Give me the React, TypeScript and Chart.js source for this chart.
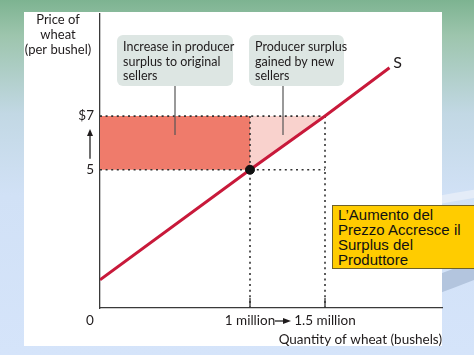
import React, { useEffect, useRef } from "react";
import { Chart, registerables } from "chart.js";

Chart.register(...registerables);

// ---- data ----
const quantityTicks = [1, 1.5];
const quantityTickLabels = ["1 million", "1.5 million"];
const priceTicks = [5, 7];
const priceTickLabels = ["5", "$7"];
const supplyQ = [0, 1, 1.5, 1.93];
const supplyP = [0.9, 5, 7, 8.8];
const oldPrice = 5;
const newPrice = 7;
const oldQty = 1;
const newQty = 1.5;
const yTitleLines = ["Price of", "wheat", "(per bushel)"];
const xTitle = "Quantity of wheat (bushels)";
const note1Lines = ["Increase in producer", "surplus to original", "sellers"];
const note2Lines = ["Producer surplus", "gained by new", "sellers"];
const note1Anchor = { q: 0.5, p: 6.3 };
const note2Anchor = { q: 1.22, p: 6.3 };
const supplyLabel = "S";
const boxLines = ["L\u2019Aumento del", "Prezzo Accresce il", "Surplus del", "Produttore"];

const FONT = "Lato, 'Open Sans', sans-serif";
const TXT = "#1f1b1c";

const annotations = {
  id: "annotations",
  afterDraw(chart: any) {
    const ctx = chart.ctx;
    const xs = chart.scales.x;
    const ys = chart.scales.y;
    ctx.save();
    ctx.fillStyle = TXT;
    ctx.strokeStyle = "#333";
    // y title
    ctx.font = `13px ${FONT}`;
    ctx.textAlign = "center";
    ctx.textBaseline = "middle";
    yTitleLines.forEach((t, i) => ctx.fillText(t, xs.left - 42, ys.top + 6 + i * 15));
    // origin label
    ctx.font = `13.5px ${FONT}`;
    ctx.fillText("0", xs.getPixelForValue(0) - 10, ys.bottom + 13);
    // arrow between prices
    const ax = xs.left - 10;
    const yTip = ys.getPixelForValue(newPrice) + 13;
    const yTail = ys.getPixelForValue(oldPrice) - 11;
    ctx.lineWidth = 1.4;
    ctx.beginPath();
    ctx.moveTo(ax, yTail);
    ctx.lineTo(ax, yTip + 4);
    ctx.stroke();
    ctx.beginPath();
    ctx.moveTo(ax, yTip);
    ctx.lineTo(ax - 3, yTip + 7);
    ctx.lineTo(ax + 3, yTip + 7);
    ctx.closePath();
    ctx.fill();
    // arrow between quantity labels
    const x1 = xs.getPixelForValue(oldQty);
    const x2 = xs.getPixelForValue(newQty);
    const ay = ys.bottom + 13;
    const aL = x1 + 25;
    const aR = x2 - 34;
    ctx.beginPath();
    ctx.moveTo(aL, ay);
    ctx.lineTo(aR - 5, ay);
    ctx.stroke();
    ctx.beginPath();
    ctx.moveTo(aR, ay);
    ctx.lineTo(aR - 8, ay - 3);
    ctx.lineTo(aR - 8, ay + 3);
    ctx.closePath();
    ctx.fill();
    // inward tick marks
    ctx.lineWidth = 1.3;
    quantityTicks.forEach((q) => {
      const px = xs.getPixelForValue(q);
      ctx.beginPath();
      ctx.moveTo(px, ys.bottom);
      ctx.lineTo(px, ys.bottom - 10);
      ctx.stroke();
    });
    // S label
    const lastQ = supplyQ[supplyQ.length - 1];
    const lastP = supplyP[supplyP.length - 1];
    ctx.font = `16px ${FONT}`;
    ctx.fillText(supplyLabel, xs.getPixelForValue(lastQ) + 8, ys.getPixelForValue(lastP) - 5);
    // note boxes
    const drawNote = (lines: string[], bx: number, bw: number, anchor: { q: number; p: number }) => {
      const by = ys.top + 21;
      const bh = 51;
      const ax2 = xs.getPixelForValue(anchor.q);
      ctx.strokeStyle = "#555";
      ctx.lineWidth = 1.2;
      ctx.beginPath();
      ctx.moveTo(ax2, by + bh);
      ctx.lineTo(ax2, ys.getPixelForValue(anchor.p));
      ctx.stroke();
      ctx.fillStyle = "#dde6e3";
      ctx.beginPath();
      (ctx as any).roundRect(bx, by, bw, bh, 6);
      ctx.fill();
      ctx.fillStyle = TXT;
      ctx.font = `12.5px ${FONT}`;
      ctx.textAlign = "left";
      ctx.textBaseline = "middle";
      lines.forEach((t, i) => ctx.fillText(t, bx + 6, by + 12 + i * 14.5));
    };
    drawNote(note1Lines, xs.left + 17, 116, note1Anchor);
    drawNote(note2Lines, xs.left + 149, 95, note2Anchor);
    ctx.restore();
  },
};

export default function App() {
  const ref = useRef<HTMLCanvasElement | null>(null);
  useEffect(() => {
    if (!ref.current) return;
    const dotted = (pts: { x: number; y: number }[]) => ({
      data: pts,
      borderColor: "#333",
      borderWidth: 1.6,
      borderDash: [2, 3.6],
      pointRadius: 0,
      fill: false,
      order: 5,
    });
    const yMin = -0.15;
    const chart = new Chart(ref.current, {
      type: "line",
      data: {
        datasets: [
          {
            data: [{ x: 0, y: newPrice }, { x: oldQty, y: newPrice }],
            borderWidth: 0,
            borderColor: "rgba(0,0,0,0)",
            pointRadius: 0,
            fill: "+1",
            backgroundColor: "#ef7b6b",
            order: 10,
          },
          {
            data: [{ x: 0, y: oldPrice }, { x: oldQty, y: oldPrice }],
            borderWidth: 0,
            borderColor: "rgba(0,0,0,0)",
            pointRadius: 0,
            fill: false,
            order: 10,
          },
          {
            data: [{ x: oldQty, y: newPrice }, { x: newQty, y: newPrice }],
            borderWidth: 0,
            borderColor: "rgba(0,0,0,0)",
            pointRadius: 0,
            fill: "+1",
            backgroundColor: "#f9d2cd",
            order: 10,
          },
          {
            data: [{ x: oldQty, y: oldPrice }, { x: newQty, y: newPrice }],
            borderWidth: 0,
            borderColor: "rgba(0,0,0,0)",
            pointRadius: 0,
            fill: false,
            order: 10,
          },
          dotted([{ x: 0, y: newPrice }, { x: newQty, y: newPrice }]),
          dotted([{ x: 0, y: oldPrice }, { x: newQty, y: oldPrice }]),
          dotted([{ x: oldQty, y: newPrice }, { x: oldQty, y: yMin }]),
          dotted([{ x: newQty, y: newPrice }, { x: newQty, y: yMin }]),
          {
            data: supplyQ.map((q, i) => ({ x: q, y: supplyP[i] })),
            borderColor: "#c8193a",
            borderWidth: 3,
            pointRadius: 0,
            fill: false,
            tension: 0,
            order: 2,
          },
          {
            data: [{ x: oldQty, y: oldPrice }],
            showLine: false,
            pointRadius: 4.5,
            pointBackgroundColor: "#111",
            pointBorderColor: "#111",
            order: 1,
          },
        ] as any,
      },
      options: {
        responsive: false,
        animation: false,
        layout: { padding: { left: 0, top: 12, right: 32, bottom: 0 } },
        plugins: {
          legend: { display: false },
          tooltip: { enabled: false },
        },
        scales: {
          x: {
            type: "linear",
            min: 0,
            max: 2.28,
            grid: { display: false, drawTicks: false },
            border: { display: true, color: "#3a3a3a", width: 1.3 },
            afterBuildTicks: (s: any) => {
              s.ticks = quantityTicks.map((v) => ({ value: v }));
            },
            afterFit: (s: any) => {
              s.height = 47;
            },
            ticks: {
              autoSkip: false,
              maxRotation: 0,
              padding: 5,
              color: TXT,
              font: { family: FONT, size: 13.5 },
              callback: (v: any) => {
                const i = quantityTicks.indexOf(Number(v));
                return i >= 0 ? quantityTickLabels[i] : "";
              },
            },
            title: {
              display: true,
              text: xTitle,
              align: "end",
              color: TXT,
              font: { family: FONT, size: 13.5 },
              padding: { top: 0, bottom: 7 },
            },
          },
          y: {
            type: "linear",
            min: yMin,
            max: 10.8,
            grid: { display: false, drawTicks: false },
            border: { display: true, color: "#3a3a3a", width: 1.3 },
            afterBuildTicks: (s: any) => {
              s.ticks = priceTicks.map((v) => ({ value: v }));
            },
            afterFit: (s: any) => {
              s.width = 100;
            },
            ticks: {
              autoSkip: false,
              padding: 6,
              color: TXT,
              font: { family: FONT, size: 13.5 },
              callback: (v: any) => {
                const i = priceTicks.indexOf(Number(v));
                return i >= 0 ? priceTickLabels[i] : "";
              },
            },
          },
        },
      } as any,
      plugins: [annotations],
    });
    return () => chart.destroy();
  }, []);

  return (
    <div
      style={{
        position: "absolute",
        left: 0,
        top: 0,
        width: 474,
        height: 355,
        overflow: "hidden",
        background:
          "linear-gradient(to bottom, #7db391 0%, #9dc5ad 10%, #c2d8e4 32%, #d1e1f6 55%, #d5e4fa 100%)",
      }}
    >
      <svg width={474} height={355} style={{ position: "absolute", left: 0, top: 0 }}>
        <path d="M 300 232 Q 400 205 480 193" stroke="#e4ecf8" strokeWidth={8} fill="none" />
        <path d="M 300 330 Q 400 300 480 268" stroke="#b3c5de" strokeWidth={18} fill="none" />
      </svg>
      <div
        style={{
          position: "absolute",
          left: 24,
          top: 12,
          width: 418,
          height: 334,
          background: "#fff",
        }}
      />
      <canvas
        ref={ref}
        width={474}
        height={355}
        style={{ position: "absolute", left: 0, top: 0, width: 474, height: 355 }}
      />
      <div
        style={{
          position: "absolute",
          left: 332,
          top: 205,
          width: 150,
          height: 64,
          background: "#ffcc00",
          border: "1px solid #6e6129",
          boxSizing: "border-box",
          padding: "1px 0 0 5px",
          fontFamily: "'Liberation Sans', Arial, sans-serif",
          fontSize: 15,
          lineHeight: "15px",
          color: "#111",
          whiteSpace: "nowrap",
        }}
      >
        {boxLines.map((t, i) => (
          <div key={i}>{t}</div>
        ))}
      </div>
    </div>
  );
}
